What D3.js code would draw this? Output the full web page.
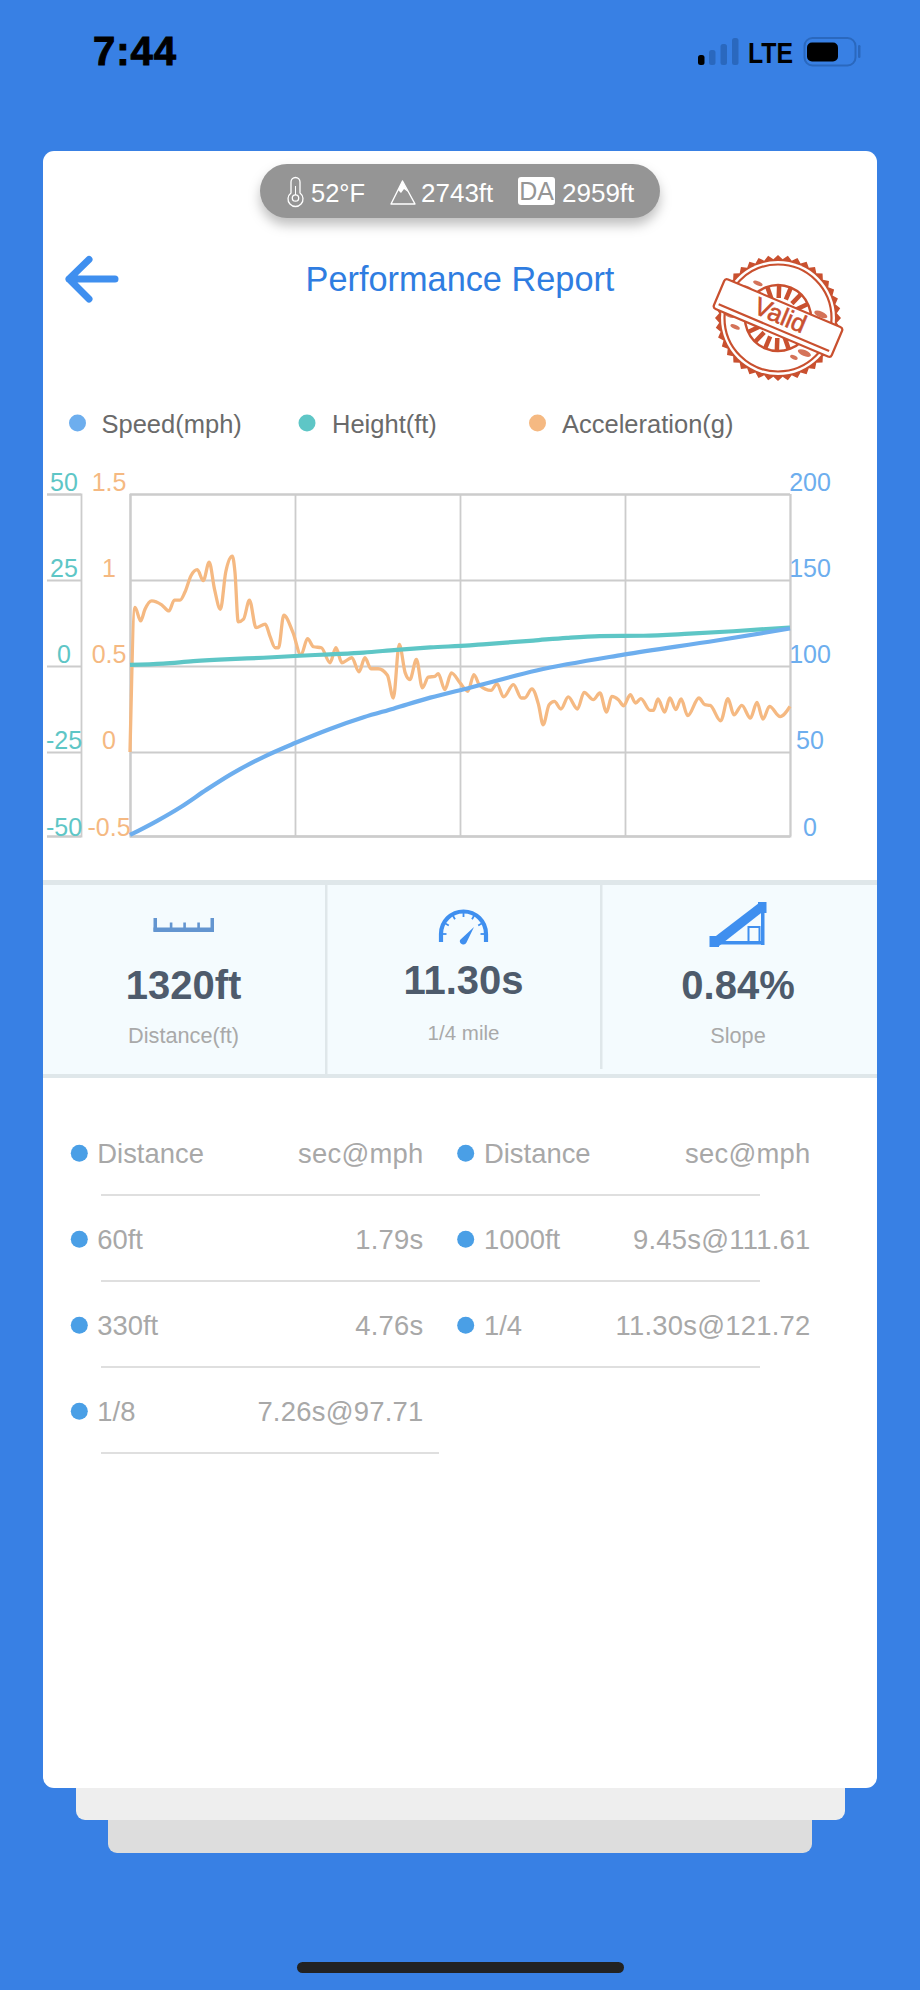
<!DOCTYPE html>
<html><head><meta charset="utf-8">
<script src="https://cdn.jsdelivr.net/npm/d3@7"></script>
<style>
html,body{margin:0;padding:0;background:#3880E4;}
svg{display:block;font-family:"Liberation Sans",Arial,sans-serif;}
</style></head>
<body><svg id="c" width="920" height="1990"></svg>
<script>
// ---- data ----
const accPct = [0,0.76,1.62,2.27,3.29,4.80,5.91,6.71,7.58,8.33,9.24,10.2,11.1,12.0,12.8,13.7,14.5,15.5,15.9,16.4,17.2,18.1,19.1,20.5,21.2,22.0,22.5,23.3,24.7,25.9,26.9,27.8,29.0,30.3,31.2,32.1,33.6,34.7,35.6,36.5,37.6,39.0,39.9,40.8,41.7,42.4,43.4,44.3,45.2,46.2,46.7,47.7,48.7,50.0,51.2,52.1,53.0,54.7,55.6,56.6,58.1,59.3,59.8,60.9,61.9,62.6,63.5,64.3,65.3,66.4,67.8,68.8,70.2,71.2,72.2,73.0,74.0,74.8,75.8,76.6,77.4,78.8,79.3,80.0,81.0,81.8,82.7,83.5,84.5,86.2,87.1,87.9,89.5,90.6,91.5,92.7,94.0,95.0,95.9,96.9,98.5,100];
const accG = [0,0.84,0.762,0.83,0.879,0.856,0.82,0.883,0.883,0.93,1.025,1.06,0.996,1.104,0.947,0.83,1.045,1.139,1.047,0.756,0.772,0.883,0.723,0.743,0.674,0.606,0.606,0.795,0.694,0.563,0.659,0.612,0.606,0.519,0.606,0.519,0.548,0.466,0.548,0.484,0.484,0.446,0.314,0.626,0.46,0.421,0.538,0.373,0.435,0.44,0.456,0.363,0.46,0.402,0.353,0.45,0.386,0.358,0.398,0.32,0.392,0.314,0.314,0.367,0.275,0.158,0.275,0.294,0.25,0.32,0.25,0.347,0.304,0.343,0.232,0.323,0.304,0.269,0.333,0.285,0.31,0.242,0.242,0.308,0.232,0.314,0.246,0.308,0.211,0.314,0.275,0.271,0.181,0.31,0.216,0.271,0.197,0.288,0.191,0.265,0.206,0.265];
const speedPct = [0,4.05,7.83,11.6,15.4,20.2,25,30.3,35.4,39.9,45.5,51.5,61.6,74.8,88.9,100];
const speedMph = [0.6,8.9,17.6,27.6,37,47,55.2,63.4,70.2,75.2,81.6,87.4,97.4,106.6,114.8,121.8];
const heightPct = [0,5.05,9.6,15.15,20.2,25,30.3,35.4,40.4,45.5,51.5,53.5,61.1,66.2,71.2,77.8,84.8,91.4,100];
const heightFt = [0.3,0.7,1.4,2.0,2.4,2.9,3.4,3.9,4.7,5.4,6.0,6.3,7.4,8.2,8.7,8.8,9.4,10.1,11.2];
const speedTicks = [0,50,100,150,200];
const heightTicks = [-50,-25,0,25,50];
const accTicks = [-0.5,0,0.5,1,1.5];
const xTicks = [0,25,50,75,100];
const legendLabels = ["Speed(mph)","Height(ft)","Acceleration(g)"];
const statValues = ["1320ft","11.30s","0.84%"];
const statLabels = ["Distance(ft)","1/4 mile","Slope"];
const splitLeft = ["Distance","60ft","330ft","1/8"];
const splitLeftVal = ["sec@mph","1.79s","4.76s","7.26s@97.71"];
const splitRight = ["Distance","1000ft","1/4"];
const splitRightVal = ["sec@mph","9.45s@111.61","11.30s@121.72"];

const BLUE="#6DAEEE", TEAL="#5EC6C6", ORANGE="#F5B982", ICON="#3F8FEF", GRID="#CCCCCC";
const svg=d3.select("#c");
const rect=(x,y,w,h,f,r)=>svg.append("rect").attr("x",x).attr("y",y).attr("width",w).attr("height",h).attr("fill",f).attr("rx",r||0);
const text=(p,s,x,y,size,fill,anchor,weight)=>p.append("text").text(s).attr("x",x).attr("y",y).attr("font-size",size).attr("fill",fill).attr("text-anchor",anchor||"start").attr("font-weight",weight||"normal");

// background + cards
rect(0,0,920,1990,"#3880E4");
rect(108,1800,704,53,"#DDDDDD",9);
rect(76,1770,769,50,"#EEEEEE",9);
rect(43,151,834,1637,"#FFFFFF",11);
rect(297,1962,327,11,"#222222",5.5);

// status bar
text(svg,"7:44",93,65,40,"#000","start","bold").attr("stroke","#000").attr("stroke-width",1).attr("letter-spacing",1);
[[701,10,"#000"],[712,15,"#2A68BE"],[723.5,21,"#2A68BE"],[735,27,"#2A68BE"]].forEach(b=>rect(b[0]-3,65-b[1],6.5,b[1],b[2],2.5));
text(svg,"LTE",748,63,29,"#000","start","bold").attr("textLength",45).attr("lengthAdjust","spacingAndGlyphs");
svg.append("rect").attr("x",804.5).attr("y",38).attr("width",51).attr("height",27.5).attr("rx",8).attr("fill","none").attr("stroke","#2A68BE").attr("stroke-width",2);
rect(807,42.5,31,19,"#000",5);
rect(858,45,2.5,13,"#2A68BE",1.2);

// pill
rect(260,164,400,54,"#959595",27).style("filter","drop-shadow(0 7px 6px rgba(0,0,0,0.25))");
svg.append("path").attr("d","M291,187 v-5 a4.5,4.5 0 0 1 9,0 v11 a7.5,7.5 0 1 1 -9,0 z").attr("fill","none").attr("stroke","#fff").attr("stroke-width",1.3);
svg.append("circle").attr("cx",295.5).attr("cy",198).attr("r",3.2).attr("fill","none").attr("stroke","#fff").attr("stroke-width",1.3);
rect(295,186,1,9,"#fff");
svg.append("path").attr("d","M402.5,181 L415,204 H391 Z").attr("fill","none").attr("stroke","#fff").attr("stroke-width",1.4).attr("stroke-linejoin","round");
svg.append("path").attr("d","M402.5,181 L408,192 L404,189 L401,193 L398,190 Z").attr("fill","#fff");
text(svg,"52°F",311,202,25.5,"#fff");
text(svg,"2743ft",421,202,26,"#fff");
rect(518,177,37,28,"#fff",3);
text(svg,"DA",536.5,200,25,"#959595","middle");
text(svg,"2959ft",562,202,26,"#fff");

// header
svg.append("path").attr("d","M89,259.5 L69,279 L89,299 M69,279 H115").attr("fill","none").attr("stroke",ICON).attr("stroke-width",7).attr("stroke-linecap","round").attr("stroke-linejoin","round");
text(svg,"Performance Report",460,291,34.3,"#2F7DE1","middle");

// stamp
const STAMP="#C9502F";
const st=svg.append("g").attr("transform","translate(778,318)");
const teeth=d3.range(80).map(i=>{const a=i/80*2*Math.PI,r=i%2?59:63;return [Math.cos(a)*r,Math.sin(a)*r];});
st.append("path").attr("d",d3.line()(teeth)+"Z").attr("fill",STAMP);
st.append("circle").attr("r",57).attr("fill","#fff");
st.append("circle").attr("r",53.5).attr("fill","none").attr("stroke",STAMP).attr("stroke-width",2.2);
const inner=st.append("g").attr("transform","rotate(23)");
inner.append("circle").attr("r",33).attr("fill","none").attr("stroke",STAMP).attr("stroke-width",2.5);
[-1,1].forEach(sign=>d3.range(-2,3).forEach(i=>{const a=(sign>0?90:-90)+i*21;const r=a*Math.PI/180;
  inner.append("line").attr("x1",Math.cos(r)*20).attr("y1",Math.sin(r)*20).attr("x2",Math.cos(r)*33).attr("y2",Math.sin(r)*33).attr("stroke",STAMP).attr("stroke-width",4.5);}));
[[-40,-15,6,2.5],[-32,-24,5,2],[-46,-8,3,2],[38,-20,7,3],[46,-12,4,2],[-46,16,6,2.5],[-36,25,5,2],[38,22,7,3],[30,30,4,2]].forEach(b=>
  inner.append("ellipse").attr("cx",b[0]).attr("cy",b[1]).attr("rx",b[2]).attr("ry",b[3]).attr("fill",STAMP).attr("opacity",0.8));
const band=st.append("g").attr("transform","rotate(23)");
band.append("rect").attr("x",-64).attr("y",-16).attr("width",128).attr("height",32).attr("rx",3).attr("fill","#fff").attr("stroke",STAMP).attr("stroke-width",2.2);
band.append("line").attr("x1",-60).attr("x2",60).attr("y1",10.5).attr("y2",10.5).attr("stroke",STAMP).attr("stroke-width",2.2);
text(band,"Valid",1,5,25,STAMP,"middle").attr("stroke",STAMP).attr("stroke-width",0.6);

// legend
[[77.5,BLUE,101.5],[307,TEAL,332],[537.5,ORANGE,562]].forEach((d,i)=>{
  svg.append("circle").attr("cx",d[0]).attr("cy",423).attr("r",8.5).attr("fill",d[1]);
  text(svg,legendLabels[i],d[2],433,25.5,"#6A6A6A");
});

// chart scales
const x=d3.scaleLinear().domain([0,100]).range([130,790]);
const yRange=[836,752,666,580,494];
const ySpeed=d3.scaleLinear().domain(speedTicks).range(yRange);
const yHeight=d3.scaleLinear().domain(heightTicks).range(yRange);
const yAcc=d3.scaleLinear().domain(accTicks).range(yRange);

// grid
const gx=svg.append("g").attr("transform","translate(0,836)").call(d3.axisBottom(x).tickValues(xTicks).tickSize(-342).tickFormat(""));
const gy=svg.append("g").attr("transform","translate(130,0)").call(d3.axisLeft(ySpeed).tickValues(speedTicks).tickSize(-660).tickFormat(""));
[gx,gy].forEach(g=>{g.selectAll("line").attr("stroke",GRID).attr("stroke-width",1.8);g.select(".domain").attr("stroke",GRID).attr("stroke-width",1.8);});

function styleLabels(g,color,cx){
  g.selectAll("text").attr("font-size",25).attr("fill",color).attr("font-family","'Liberation Sans',Arial,sans-serif")
    .attr("text-anchor","middle").attr("x",cx).attr("dy",null)
    .attr("y",(d,i)=>i===0?-1:-3.5);
}
const aH=svg.append("g").attr("transform","translate(81,0)").call(d3.axisLeft(yHeight).tickValues(heightTicks).tickSize(34).tickFormat(d=>String(d)));
aH.selectAll("line").attr("stroke",GRID).attr("stroke-width",1.8);
aH.select(".domain").attr("stroke",GRID).attr("stroke-width",1.8);
styleLabels(aH,TEAL,-17);
const aA=svg.append("g").attr("transform","translate(109,0)").call(d3.axisLeft(yAcc).tickValues(accTicks).tickSize(0).tickFormat(d=>String(d)));
aA.select(".domain").remove();
styleLabels(aA,ORANGE,0);
const aS=svg.append("g").attr("transform","translate(810,0)").call(d3.axisRight(ySpeed).tickValues(speedTicks).tickSize(0).tickFormat(d=>String(d)));
aS.select(".domain").remove();
styleLabels(aS,BLUE,0);

// series
const draw=(xs,ys,scale,color,w,curve)=>svg.append("path")
  .attr("d",d3.line().x(d=>x(d[0])).y(d=>scale(d[1])).curve(curve)(xs.map((v,i)=>[v,ys[i]])))
  .attr("fill","none").attr("stroke",color).attr("stroke-width",w).attr("stroke-linejoin","round");
draw(accPct,accG,yAcc,ORANGE,3.3,d3.curveMonotoneX);
draw(heightPct,heightFt,yHeight,TEAL,4.2,d3.curveMonotoneX);
draw(speedPct,speedMph,ySpeed,BLUE,4.2,d3.curveMonotoneX);

// stats panel
rect(43,885,834,189,"#F4FBFE");
rect(43,880,834,5,"#DFE7EA");
rect(43,1074,834,4,"#DFE7EA");
rect(325,885,2.5,189,"#DFE7EA");
rect(600,885,2.5,184,"#DFE7EA");
const RUL="#6395D0";
rect(153.5,927.5,60.5,4.5,RUL);rect(153.5,918,3.5,13.5,RUL);rect(210.5,918,3.5,13.5,RUL);
[171,184.5,198.5].forEach(v=>rect(v-1.2,922.5,2.6,6,RUL));
svg.append("path").attr("d","M441,942 V934 A22.5,22.5 0 0 1 486,934 V942").attr("fill","none").attr("stroke",ICON).attr("stroke-width",4.2);
d3.range(7).forEach(i=>{const a=Math.PI+(i+0.0)/6*Math.PI;const cx=463.5,cy=934;
  svg.append("line").attr("x1",cx+Math.cos(a)*22).attr("y1",cy+Math.sin(a)*22).attr("x2",cx+Math.cos(a)*17).attr("y2",cy+Math.sin(a)*17).attr("stroke",ICON).attr("stroke-width",1.8);});
svg.append("path").attr("d","M460,940 L474,927 L466.5,942.5 A3.5,3.5 0 0 1 460,940 Z").attr("fill",ICON);
svg.append("path").attr("d","M712,939 L759,903 L765,910 L719,946 Z").attr("fill",ICON);
rect(709.5,936,9.5,11,ICON);rect(758,902,8.5,11,ICON);
rect(761,905,3.5,40,ICON);rect(713,941,50,3.5,ICON);
svg.append("rect").attr("x",748.5).attr("y",927).attr("width",11).attr("height",15).attr("fill","none").attr("stroke",ICON).attr("stroke-width",2);
[[183.5,999,1043],[463.5,994,1040],[738,999,1043]].forEach((d,i)=>{
  text(svg,statValues[i],d[0],d[1],40,"#4E5B6C","middle","bold");
  text(svg,statLabels[i],d[0],d[2],i===1?20.5:21.7,"#A9A9A9","middle");
});

// split table
const rowGap=86, firstDot=1153.3, firstBase=1163.3, firstLine=1195;
function column(names,vals,dotX,textX,rightX,lineEnds){
  names.forEach((n,i)=>{
    svg.append("circle").attr("cx",dotX).attr("cy",firstDot+i*rowGap).attr("r",8.5).attr("fill","#4A9FE6");
    text(svg,n,textX,firstBase+i*rowGap,27.4,"#A8A8A8");
    text(svg,vals[i],rightX,firstBase+i*rowGap,27.4,"#A8A8A8","end").attr("letter-spacing",0.25);
    if(lineEnds) svg.append("line").attr("x1",lineEnds[0]).attr("x2",lineEnds[1][i]).attr("y1",firstLine+i*rowGap).attr("y2",firstLine+i*rowGap).attr("stroke","#D5D5D5").attr("stroke-width",1.6);
  });
}
column(splitLeft,splitLeftVal,79.3,97.3,423.5,[101,[760,760,760,439]]);
column(splitRight,splitRightVal,465.7,484,810.5,null);
</script></body></html>
